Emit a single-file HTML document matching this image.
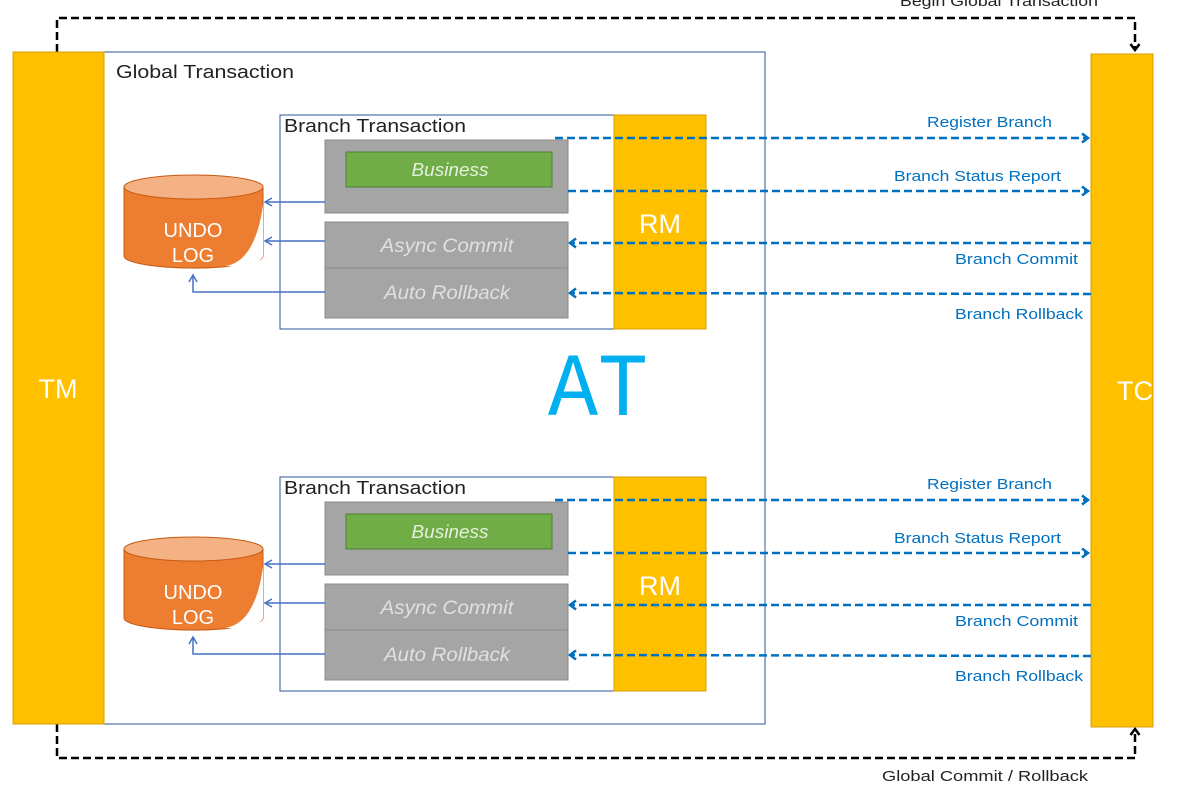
<!DOCTYPE html>
<html><head><meta charset="utf-8"><style>
body{margin:0;background:#fff;}
svg{display:block;}
text{font-family:"Liberation Sans","DejaVu Sans",sans-serif;}
</style></head><body>
<svg width="1191" height="790" viewBox="0 0 1191 790">
<defs>
<marker id="ab" markerWidth="12" markerHeight="12" refX="8" refY="6" orient="auto" markerUnits="userSpaceOnUse"><path d="M2,1.5 L8,6 L2,10.5" fill="none" stroke="#0070C0" stroke-width="2.5"/></marker>
<marker id="ak" markerWidth="12" markerHeight="12" refX="8" refY="6" orient="auto" markerUnits="userSpaceOnUse"><path d="M2,1.5 L8,6 L2,10.5" fill="none" stroke="#000" stroke-width="2.5"/></marker>
<marker id="al" markerWidth="10" markerHeight="10" refX="8" refY="5" orient="auto" markerUnits="userSpaceOnUse"><path d="M1,1 L8,5 L1,9" fill="none" stroke="#4472C4" stroke-width="1.5"/></marker>
</defs>
<path d="M57,52 V18 H1135 V50" fill="none" stroke="#000" stroke-width="2.5" stroke-dasharray="8,4" marker-end="url(#ak)"/>
<text x="900" y="6" font-size="15" fill="#222" textLength="198" lengthAdjust="spacingAndGlyphs">Begin Global Transaction</text>
<path d="M57,724 V758 H1135 V729" fill="none" stroke="#000" stroke-width="2.5" stroke-dasharray="8,4" marker-end="url(#ak)"/>
<text x="882" y="781" font-size="15" fill="#222" textLength="206" lengthAdjust="spacingAndGlyphs">Global Commit / Rollback</text>
<rect x="104" y="52" width="661" height="672" fill="#fff" stroke="#2F5597" stroke-width="1"/>
<text x="116" y="78" font-size="18" fill="#222" textLength="178" lengthAdjust="spacingAndGlyphs">Global Transaction</text>
<rect x="13" y="52" width="91" height="672" fill="#FFC000" stroke="#D6A000"/>
<text x="58" y="398" font-size="27" fill="#fff" text-anchor="middle">TM</text>
<rect x="1091" y="54" width="62" height="673" fill="#FFC000" stroke="#D6A000"/>
<text x="1135" y="400" font-size="27" fill="#fff" text-anchor="middle">TC</text>
<text x="598" y="415" font-size="90" fill="#00B0F0" text-anchor="middle" style="font-family:'Liberation Mono',monospace" textLength="100" lengthAdjust="spacingAndGlyphs">AT</text>
<g id="br">
<rect x="280" y="115" width="334" height="214" fill="#fff" stroke="#2F5597"/>
<text x="284" y="132" font-size="18" fill="#222" textLength="182" lengthAdjust="spacingAndGlyphs">Branch Transaction</text>
<rect x="325" y="140" width="243" height="73" fill="#A5A5A5" stroke="#8a8a8a"/>
<rect x="346" y="152" width="206" height="35" fill="#70AD47" stroke="#507e33"/>
<text x="450" y="176" font-size="18" font-style="italic" fill="#e6f0df" text-anchor="middle" textLength="77" lengthAdjust="spacingAndGlyphs">Business</text>
<rect x="325" y="222" width="243" height="46" fill="#A5A5A5" stroke="#8a8a8a"/>
<text x="447" y="252" font-size="19" font-style="italic" fill="#e0e0e0" text-anchor="middle" textLength="133" lengthAdjust="spacingAndGlyphs">Async Commit</text>
<rect x="325" y="268" width="243" height="50" fill="#A5A5A5" stroke="#8a8a8a"/>
<text x="447" y="299" font-size="19" font-style="italic" fill="#e0e0e0" text-anchor="middle" textLength="126" lengthAdjust="spacingAndGlyphs">Auto Rollback</text>
<rect x="614" y="115" width="92" height="214" fill="#FFC000" stroke="#D6A000"/>
<text x="660" y="233" font-size="27" fill="#fff" text-anchor="middle">RM</text>
<path d="M124,187 V256 A69,12 0 0 0 263,256 V187" fill="#ED7D31" stroke="#c55a11"/>
<ellipse cx="193.5" cy="187" rx="69.5" ry="12" fill="#F4B183" stroke="#c55a11"/>
<path d="M263,205 Q255,262 225,266 L240,267 Q262,262 263,256Z" fill="#fff"/>
<text x="193" y="237" font-size="20" fill="#fff" text-anchor="middle">UNDO</text>
<text x="193" y="262" font-size="20" fill="#fff" text-anchor="middle">LOG</text>
<line x1="325" y1="202" x2="265" y2="202" stroke="#4472C4" stroke-width="1.5" marker-end="url(#al)"/>
<line x1="325" y1="241" x2="265" y2="241" stroke="#4472C4" stroke-width="1.5" marker-end="url(#al)"/>
<path d="M325,292 H193 V275" fill="none" stroke="#4472C4" stroke-width="1.5" marker-end="url(#al)"/>
<g stroke="#0070C0" stroke-width="2.5" stroke-dasharray="8,4" fill="none">
<line x1="555" y1="138" x2="1088" y2="138" marker-end="url(#ab)"/>
<line x1="568" y1="191" x2="1088" y2="191" marker-end="url(#ab)"/>
<line x1="1091" y1="243" x2="570" y2="243" marker-end="url(#ab)"/>
<line x1="1091" y1="294" x2="570" y2="293" marker-end="url(#ab)"/>
</g>
<g font-size="15" fill="#0070C0">
<text x="927" y="127" textLength="125" lengthAdjust="spacingAndGlyphs">Register Branch</text>
<text x="894" y="181" textLength="167" lengthAdjust="spacingAndGlyphs">Branch Status Report</text>
<text x="955" y="264" textLength="123" lengthAdjust="spacingAndGlyphs">Branch Commit</text>
<text x="955" y="319" textLength="128" lengthAdjust="spacingAndGlyphs">Branch Rollback</text>
</g>
</g>
<use href="#br" transform="translate(0,362)"/>
</svg>
</body></html>
